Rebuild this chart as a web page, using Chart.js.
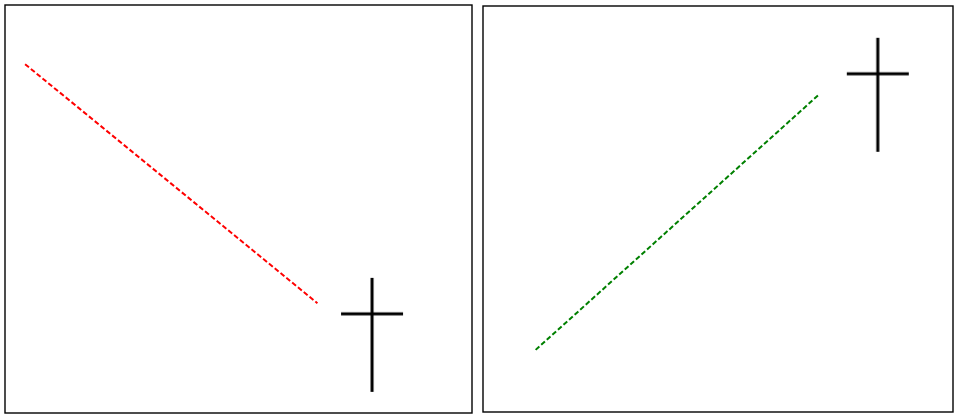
<!DOCTYPE html>
<html>
<head>
<meta charset="utf-8">
<script src="https://cdn.jsdelivr.net/npm/chart.js@4"></script>
<style>
  html, body { margin: 0; padding: 0; background: #fff; }
  body { width: 958px; height: 420px; position: relative; overflow: hidden; }
  .panel { position: absolute; }
</style>
</head>
<body>
<div class="panel" style="left:3px; top:3px; width:471px; height:412px;"><canvas id="left"></canvas></div>
<div class="panel" style="left:481px; top:4px; width:474px; height:410px;"><canvas id="right"></canvas></div>
<script>
// left panel: falling line and marker
const leftLineX = [0.43, 6.69];
const leftLineY = [8.55, 2.69];
const leftMarkX = [7.86];
const leftMarkY = [2.43];

// right panel: rising line and marker
const rightLineX = [1.12, 7.14];
const rightLineY = [1.53, 7.81];
const rightMarkX = [8.4];
const rightMarkY = [8.33];

const axisMin = 0;
const axisMax = 10;

// cross-shaped marker, crossing point at the image centre
function makeCross() {
    const c = document.createElement('canvas');
    c.width = 64;
    c.height = 158;
    const g = c.getContext('2d');
    g.strokeStyle = '#000';
    g.lineWidth = 3;
    g.beginPath();
    g.moveTo(32, 43);
    g.lineTo(32, 157);
    g.moveTo(1, 79);
    g.lineTo(63, 79);
    g.stroke();
    return c;
}
const cross = makeCross();

// frame around the plot area
const frame = {
    id: 'frame',
    afterDraw(chart) {
        const a = chart.chartArea;
        const ctx = chart.ctx;
        ctx.save();
        ctx.strokeStyle = '#000';
        ctx.lineWidth = 1.4;
        ctx.strokeRect(a.left, a.top, a.right - a.left, a.bottom - a.top);
        ctx.restore();
    }
};

function toPoints(xs, ys) {
    return xs.map((x, i) => ({ x: x, y: ys[i] }));
}

function renderPanel(canvasId, lineX, lineY, markX, markY, color) {
    const ctx = document.getElementById(canvasId);
    if (!ctx) return;

    new Chart(ctx, {
        type: 'line',
        data: {
            datasets: [{
                data: toPoints(lineX, lineY),
                borderColor: color,
                borderWidth: 2,
                borderDash: [5, 2.5],
                pointRadius: 0,
                fill: false,
                tension: 0
            }, {
                type: 'scatter',
                data: toPoints(markX, markY),
                pointStyle: cross,
                pointRadius: 10,
                showLine: false
            }]
        },
        options: {
            responsive: true,
            maintainAspectRatio: false,
            animation: false,
            layout: { padding: 2, autoPadding: false },
            plugins: {
                legend: { display: false },
                tooltip: { enabled: false }
            },
            scales: {
                x: { type: 'linear', display: false, min: axisMin, max: axisMax },
                y: { type: 'linear', display: false, min: axisMin, max: axisMax }
            }
        },
        plugins: [frame]
    });
}

renderPanel('left', leftLineX, leftLineY, leftMarkX, leftMarkY, '#ff0000');
renderPanel('right', rightLineX, rightLineY, rightMarkX, rightMarkY, '#008000');
</script>
</body>
</html>
